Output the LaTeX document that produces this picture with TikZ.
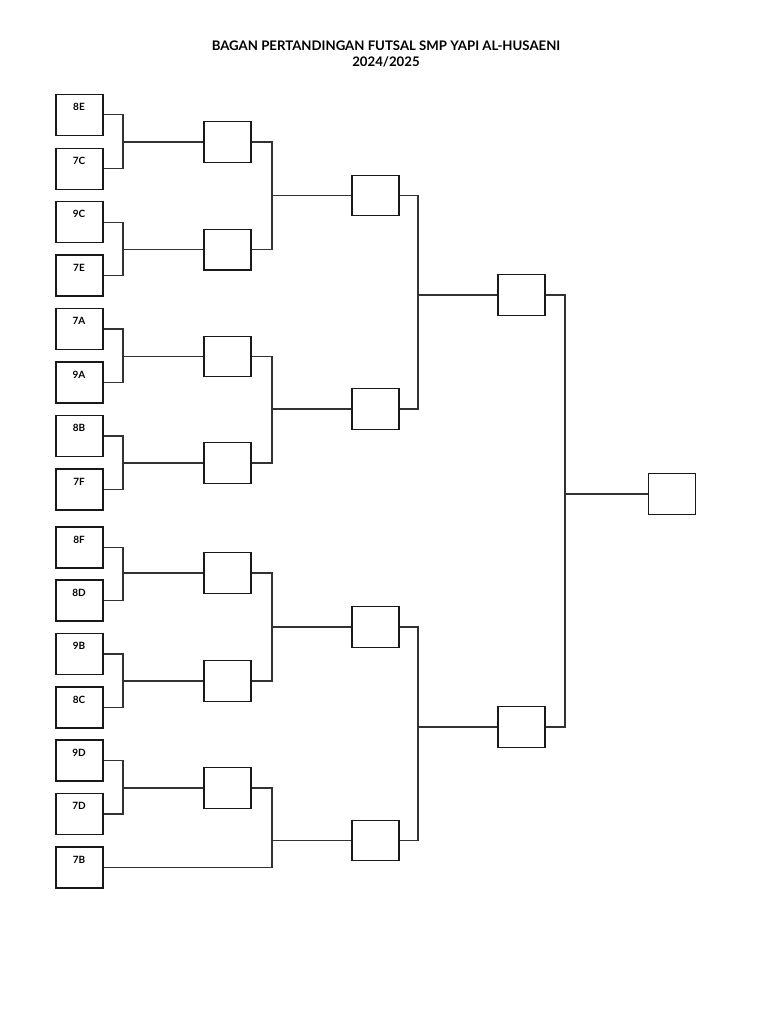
\documentclass[tikz,border=0pt]{standalone}
\usepackage{fontspec}
\setmainfont{Lato}
\usetikzlibrary{calc}
\definecolor{boxclr}{RGB}{25,25,25}
\definecolor{lineclr}{RGB}{50,50,50}
\tikzset{
  % Kotak tim dan kotak pertandingan
  teambox/.style  = {draw=boxclr, line width=1.2pt, minimum width=47pt, minimum height=41pt, inner sep=0pt},
  matchbox/.style = {draw=boxclr, line width=1.2pt, minimum width=47pt, minimum height=40.5pt, inner sep=0pt},
  % Garis bagan
  bracketline/.style = {draw=lineclr, line width=1.1pt},
  % Tulisan
  lab/.style      = {font=\bfseries\fontsize{10}{12}\selectfont, inner sep=0pt},
  titlelab/.style = {font=\bfseries\fontsize{13.2}{16}\selectfont, align=center, inner sep=0pt},
}
\begin{document}
\begin{tikzpicture}[x=1pt, y=-1pt]
  \useasboundingbox (0,0) rectangle (768,1024);
  % Judul
  \node[titlelab] (title) at (386,54) {BAGAN PERTANDINGAN FUTSAL SMP YAPI AL-HUSAENI\\2024/2025};
  % Tim (babak 1)
  \node[teambox] (t1)  at (79.5,114.8) {};
  \node[teambox] (t2)  at (79.5,168.8) {};
  \node[teambox] (t3)  at (79.5,222.2) {};
  \node[teambox] (t4)  at (79.5,275.5) {};
  \node[teambox] (t5)  at (79.5,329.0) {};
  \node[teambox] (t6)  at (79.5,382.5) {};
  \node[teambox] (t7)  at (79.5,436.0) {};
  \node[teambox] (t8)  at (79.5,489.5) {};
  \node[teambox] (t9)  at (79.5,547.5) {};
  \node[teambox] (t10) at (79.5,600.5) {};
  \node[teambox] (t11) at (79.5,654.0) {};
  \node[teambox] (t12) at (79.5,707.5) {};
  \node[teambox] (t13) at (79.5,760.5) {};
  \node[teambox] (t14) at (79.5,814.0) {};
  \node[teambox] (t15) at (79.5,867.5) {};
  % Nama tim
  \node[lab] (l1)  at ([xshift=-0.5pt,yshift=-13pt]t1.north)  {8E};
  \node[lab] (l2)  at ([xshift=-0.5pt,yshift=-13pt]t2.north)  {7C};
  \node[lab] (l3)  at ([xshift=-0.5pt,yshift=-13pt]t3.north)  {9C};
  \node[lab] (l4)  at ([xshift=-0.5pt,yshift=-13pt]t4.north)  {7E};
  \node[lab] (l5)  at ([xshift=-0.5pt,yshift=-13pt]t5.north)  {7A};
  \node[lab] (l6)  at ([xshift=-0.5pt,yshift=-13pt]t6.north)  {9A};
  \node[lab] (l7)  at ([xshift=-0.5pt,yshift=-13pt]t7.north)  {8B};
  \node[lab] (l8)  at ([xshift=-0.5pt,yshift=-13pt]t8.north)  {7F};
  \node[lab] (l9)  at ([xshift=-0.5pt,yshift=-13pt]t9.north)  {8F};
  \node[lab] (l10) at ([xshift=-0.5pt,yshift=-13pt]t10.north) {8D};
  \node[lab] (l11) at ([xshift=-0.5pt,yshift=-13pt]t11.north) {9B};
  \node[lab] (l12) at ([xshift=-0.5pt,yshift=-13pt]t12.north) {8C};
  \node[lab] (l13) at ([xshift=-0.5pt,yshift=-13pt]t13.north) {9D};
  \node[lab] (l14) at ([xshift=-0.5pt,yshift=-13pt]t14.north) {7D};
  \node[lab] (l15) at ([xshift=-0.5pt,yshift=-13pt]t15.north) {7B};
  % Babak 2
  \node[matchbox] (a1) at (227.5,142.0) {};
  \node[matchbox] (a2) at (227.5,249.7) {};
  \node[matchbox] (a3) at (227.5,356.5) {};
  \node[matchbox] (a4) at (227.5,463.0) {};
  \node[matchbox] (a5) at (227.5,573.0) {};
  \node[matchbox] (a6) at (227.5,681.0) {};
  \node[matchbox] (a7) at (227.5,788.0) {};
  % Babak 3
  \node[matchbox] (b1) at (375.5,195.5) {};
  \node[matchbox] (b2) at (375.5,409.0) {};
  \node[matchbox] (b3) at (375.5,627.0) {};
  \node[matchbox] (b4) at (375.5,840.5) {};
  % Semifinal dan final
  \node[matchbox] (c1) at (521.5,295.0) {};
  \node[matchbox] (c2) at (521.5,727.0) {};
  \node[matchbox] (fin) at (672,494.0) {};
  % Titik cabang
  \coordinate (ja1) at (a1.west -| 123,0);
  \coordinate (ja2) at (a2.west -| 123,0);
  \coordinate (ja3) at (a3.west -| 123,0);
  \coordinate (ja4) at (a4.west -| 123,0);
  \coordinate (ja5) at (a5.west -| 123,0);
  \coordinate (ja6) at (a6.west -| 123,0);
  \coordinate (ja7) at (a7.west -| 123,0);
  \coordinate (jb1) at (b1.west -| 272,0);
  \coordinate (jb2) at (b2.west -| 272,0);
  \coordinate (jb3) at (b3.west -| 272,0);
  \coordinate (jb4) at (b4.west -| 272,0);
  \coordinate (jc1) at (c1.west -| 418,0);
  \coordinate (jc2) at (c2.west -| 418,0);
  \coordinate (jf)  at (fin.west -| 565,0);
  % Garis babak 1
  \draw[bracketline] (t1.east) -| (ja1) |- (t2.east);   \draw[bracketline] (ja1) -- (a1.west);
  \draw[bracketline] (t3.east) -| (ja2) |- (t4.east);   \draw[bracketline] (ja2) -- (a2.west);
  \draw[bracketline] (t5.east) -| (ja3) |- (t6.east);   \draw[bracketline] (ja3) -- (a3.west);
  \draw[bracketline] (t7.east) -| (ja4) |- (t8.east);   \draw[bracketline] (ja4) -- (a4.west);
  \draw[bracketline] (t9.east) -| (ja5) |- (t10.east);  \draw[bracketline] (ja5) -- (a5.west);
  \draw[bracketline] (t11.east) -| (ja6) |- (t12.east); \draw[bracketline] (ja6) -- (a6.west);
  \draw[bracketline] (t13.east) -| (ja7) |- (t14.east); \draw[bracketline] (ja7) -- (a7.west);
  % Garis babak 2
  \draw[bracketline] (a1.east) -| (jb1) |- (a2.east);  \draw[bracketline] (jb1) -- (b1.west);
  \draw[bracketline] (a3.east) -| (jb2) |- (a4.east);  \draw[bracketline] (jb2) -- (b2.west);
  \draw[bracketline] (a5.east) -| (jb3) |- (a6.east);  \draw[bracketline] (jb3) -- (b3.west);
  \draw[bracketline] (a7.east) -| (jb4) |- (t15.east); \draw[bracketline] (jb4) -- (b4.west);
  % Garis babak 3
  \draw[bracketline] (b1.east) -| (jc1) |- (b2.east);  \draw[bracketline] (jc1) -- (c1.west);
  \draw[bracketline] (b3.east) -| (jc2) |- (b4.east);  \draw[bracketline] (jc2) -- (c2.west);
  % Garis final
  \draw[bracketline] (c1.east) -| (jf) |- (c2.east);   \draw[bracketline] (jf) -- (fin.west);
\end{tikzpicture}
\end{document}
